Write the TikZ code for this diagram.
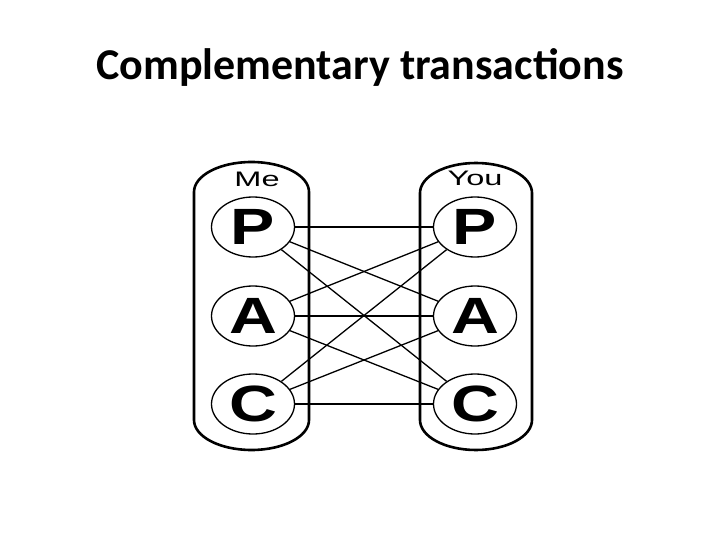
\documentclass[tikz,border=0pt]{standalone}
\usepackage{fontspec}
\usetikzlibrary{shapes.geometric}
\newfontfamily\titlefont{Carlito}
\newfontfamily\labelfont{Liberation Sans}
\begin{document}
\begin{tikzpicture}[x=1pt,y=-1pt,
  capsule/.style={line width=2.6pt},
  egostate/.style={ellipse,draw,line width=1.3pt,minimum width=83pt,minimum height=60pt,inner sep=0pt,
    font=\labelfont\bfseries\fontsize{51}{51}\selectfont},
  conn/.style={line width=1.3pt},
  headlabel/.style={font=\labelfont\fontsize{21}{21}\selectfont,inner sep=0pt}]
\useasboundingbox (0,0) rectangle (720,540);
\node[font=\titlefont\bfseries\fontsize{44}{44}\selectfont,anchor=base] (title) at (360,80) {Complementary transactions};
% capsules
\draw[capsule] (194,192) arc[start angle=180,end angle=360,x radius=57.5,y radius=30] -- (309,420)
  arc[start angle=0,end angle=180,x radius=57.5,y radius=30] -- cycle;
\draw[capsule] (420,193) arc[start angle=180,end angle=360,x radius=56,y radius=30] -- (532,420)
  arc[start angle=0,end angle=180,x radius=56,y radius=30] -- cycle;
\node[headlabel] (me) at (257,179) {\scalebox{1.55}[1]{Me}};
\node[headlabel] (you) at (475,178) {\scalebox{1.55}[1]{You}};
% ego states
\node[egostate] (lp) at (253,227) {\scalebox{1.3}[1]{P}};
\node[egostate] (la) at (253,316) {\scalebox{1.3}[1]{A}};
\node[egostate] (lc) at (253,404) {\scalebox{1.3}[1]{C}};
\node[egostate] (rp) at (475,227) {\scalebox{1.3}[1]{P}};
\node[egostate] (ra) at (475,316) {\scalebox{1.3}[1]{A}};
\node[egostate] (rc) at (475,404) {\scalebox{1.3}[1]{C}};
% connectors
\foreach \a in {lp,la,lc}{
  \foreach \b in {rp,ra,rc}{
    \draw[conn] (\a) -- (\b);
  }
}
\end{tikzpicture}
\end{document}
